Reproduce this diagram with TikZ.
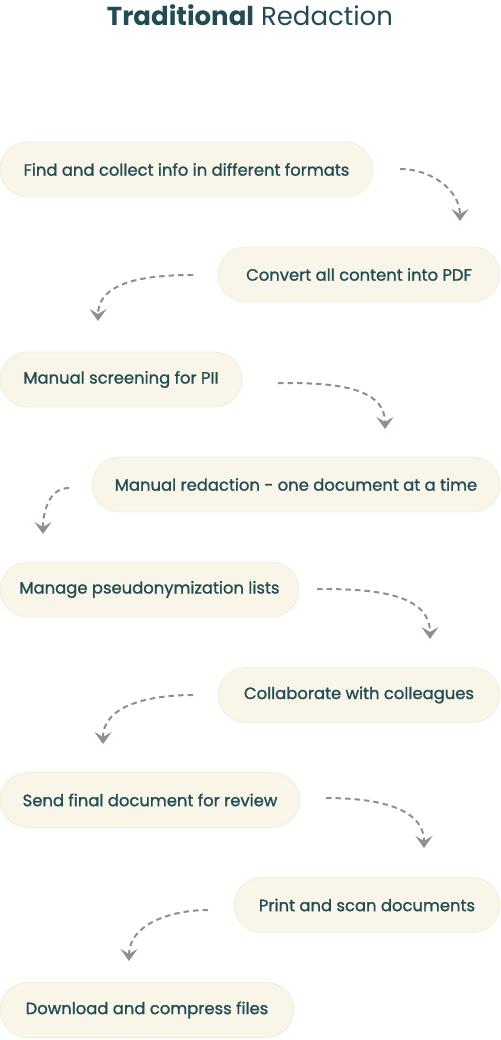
\documentclass[tikz,border=0pt]{standalone}
\usepackage{fontspec}
\setmainfont{Poppins}
\newfontfamily\stepfont{Poppins}[FakeBold=1.2]
\usetikzlibrary{arrows.meta}

\definecolor{boxfill}{HTML}{F9F6E9}
\definecolor{boxline}{HTML}{F2EEDB}
\definecolor{darkteal}{HTML}{214C53}
\definecolor{arrowgray}{HTML}{8A9388}

\tikzset{
    stepbox/.style={fill=boxfill, draw=boxline, line width=0.8pt, rounded corners=27.5pt,
        minimum height=55pt, inner sep=0pt, text=darkteal, font=\stepfont\fontsize{16.4}{19}\selectfont},
    flowarrow/.style={arrowgray, line width=2pt, dash pattern=on 5.5pt off 4pt,
        -{Stealth[length=12pt, width=17pt, inset=5pt]}}
}

\begin{document}
\begin{tikzpicture}[x=1pt, y=-1pt]
    \useasboundingbox (0,0) rectangle (500,1040);

    % Title
    \node[text=darkteal, font=\fontsize{26}{30}\selectfont] (title) at (250,15) {\textbf{Traditional} Redaction};

    % Steps, alternating left and right
    \node[stepbox, minimum width=373pt] (find) at (186.5,169.5) {Find and collect info in different formats};
    \node[stepbox, minimum width=282pt] (convert) at (359,274.5) {Convert all content into PDF};
    \node[stepbox, minimum width=242pt] (screen) at (121,379.5) {Manual screening for PII};
    \node[stepbox, minimum width=408pt] (redact) at (296,484.5) {Manual redaction - one document at a time};
    \node[stepbox, minimum width=299pt] (pseudo) at (149.5,589.5) {Manage pseudonymization lists};
    \node[stepbox, minimum width=282pt] (collab) at (359,695) {Collaborate with colleagues};
    \node[stepbox, minimum width=300pt] (review) at (150,800) {Send final document for review};
    \node[stepbox, minimum width=266pt] (print) at (367,905) {Print and scan documents};
    \node[stepbox, minimum width=294pt] (download) at (147,1010) {Download and compress files};

    % Arrow ends (start and tip)
    \coordinate (s1) at (400,169);  \coordinate (e1) at (460,221);
    \coordinate (s2) at (193,275);  \coordinate (e2) at (98,321);
    \coordinate (s3) at (278,383);  \coordinate (e3) at (385,429);
    \coordinate (s4) at (69,488);   \coordinate (e4) at (43,534);
    \coordinate (s5) at (317,589);  \coordinate (e5) at (430,639);
    \coordinate (s6) at (193,695);  \coordinate (e6) at (103,744);
    \coordinate (s7) at (326,798);  \coordinate (e7) at (424,848);
    \coordinate (s8) at (208,910);  \coordinate (e8) at (129,961);

    % Dashed curved arrows
    \foreach \i/\o in {1/0, 2/180, 3/0, 4/180, 5/0, 6/180, 7/0, 8/180} {
        \draw[flowarrow] (s\i) to[out=\o, in=90] (e\i);
    }
\end{tikzpicture}
\end{document}
